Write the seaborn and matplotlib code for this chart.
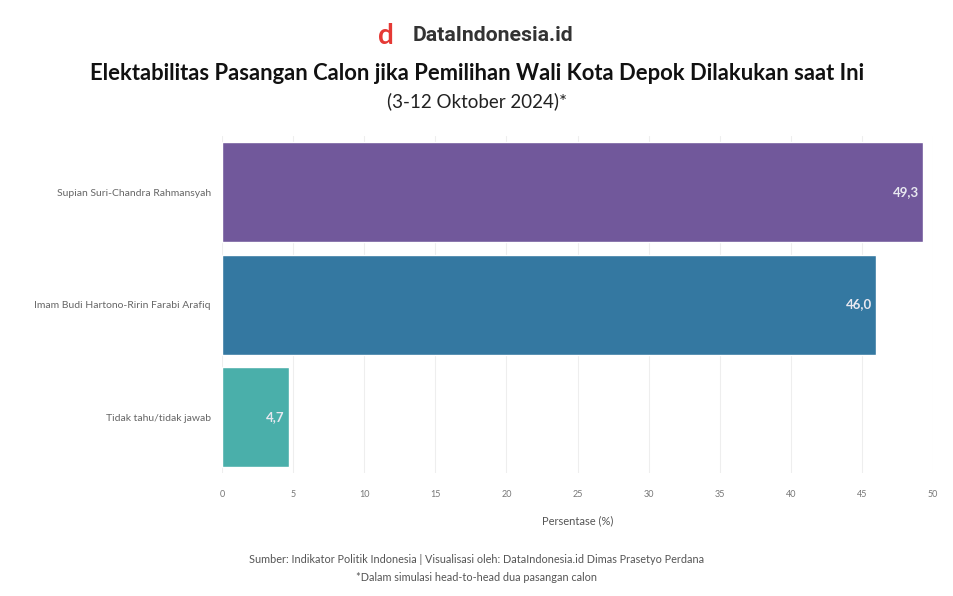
import matplotlib
matplotlib.use("Agg")
import matplotlib.pyplot as plt
import seaborn as sns
import pandas as pd

# data
paslon = ["Supian Suri-Chandra Rahmansyah",
          "Imam Budi Hartono-Ririn Farabi Arafiq",
          "Tidak tahu/tidak jawab"]
persen = [49.3, 46.0, 4.7]
warna = ["#71589b", "#3478a1", "#4aafaa"]
x_ticks = [0, 5, 10, 15, 20, 25, 30, 35, 40, 45, 50]

df = pd.DataFrame({"paslon": paslon, "persen": persen})

sns.set_theme(style="white")
plt.rcParams["font.family"] = ["Lato", "DejaVu Sans"]

fig = plt.figure(figsize=(9.54, 5.96), dpi=100)
ax = fig.add_axes([0.2327, 0.206, 0.7453, 0.566])

sns.barplot(data=df, x="persen", y="paslon", hue="paslon", palette=warna,
            width=0.89, legend=False, ax=ax, saturation=1)

ax.set_xlim(0, 50)
ax.set_ylim(2.5, -0.5)
ax.set_xticks(x_ticks)
ax.set_xticklabels([str(t) for t in x_ticks], fontsize=6.5, color="#777777")
ax.tick_params(axis="y", labelsize=7.5, labelcolor="#666666", length=0, pad=8)
ax.tick_params(axis="x", length=0, pad=12)
ax.grid(axis="x", color="#eeeeee", linewidth=0.8)
ax.set_axisbelow(True)
for s in ax.spines.values():
    s.set_visible(False)
ax.set_ylabel("")
ax.set_xlabel("Persentase (%)", fontsize=8, color="#555555", labelpad=12)

for i, v in enumerate(persen):
    ax.text(v - 0.3, i, f"{v:.1f}".replace(".", ","), ha="right", va="center",
            fontsize=9.5, fontweight="bold", color="#e8e8f0")

# header
fig.text(0.405, 0.940, "d", ha="center", va="center", fontsize=20,
         fontweight="bold", color="#e53935")
fig.text(0.432, 0.940, "DataIndonesia.id", ha="left", va="center",
         fontsize=15.3, color="#333333", fontweight="bold", family=["Roboto", "DejaVu Sans"])
fig.text(0.5, 0.877, "Elektabilitas Pasangan Calon jika Pemilihan Wali Kota Depok Dilakukan saat Ini",
         ha="center", va="center", fontsize=15.8, fontweight="bold", color="#111111")
fig.text(0.5, 0.831, "(3-12 Oktober 2024)*", ha="center", va="center",
         fontsize=13.5, color="#222222")

# footer
fig.text(0.5, 0.062, "Sumber: Indikator Politik Indonesia | Visualisasi oleh: DataIndonesia.id Dimas Prasetyo Perdana",
         ha="center", va="center", fontsize=7.8, color="#555555")
fig.text(0.5, 0.031, "*Dalam simulasi head-to-head dua pasangan calon",
         ha="center", va="center", fontsize=7.8, color="#555555")

fig.savefig("out.png", dpi=100)
